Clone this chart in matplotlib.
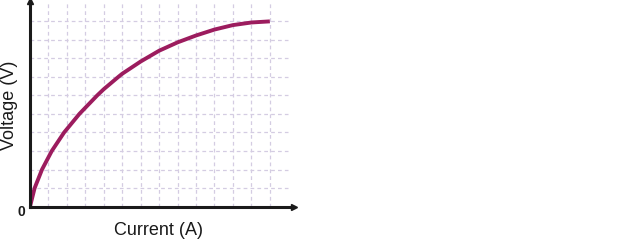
import matplotlib.pyplot as plt

# values (grid units)
current = [0, 0.25, 0.65, 1.18, 1.85, 2.68, 3.65, 4.0, 4.8, 5.0, 6.0, 7.0, 8.0, 9.0, 10.0, 11.0, 12.0, 13.0]
voltage = [0, 1.0, 2.0, 3.0, 4.0, 5.0, 6.0, 6.33, 7.0, 7.16, 7.82, 8.4, 8.85, 9.22, 9.54, 9.78, 9.92, 9.98]
grid_x = list(range(1, 14))
grid_y = list(range(1, 11))

W, H = 624, 241
fig = plt.figure(figsize=(W / 100, H / 100), dpi=100)
plt.rcParams['font.family'] = ['Liberation Sans', 'DejaVu Sans']

x0, y0 = 30, 206.7          # origin in pixels
ux, uy = 18.45, 18.57       # pixels per grid unit
xmax, ymax = 14.3, 11.1
ax = fig.add_axes([x0 / W, (H - y0) / H, xmax * ux / W, ymax * uy / H])
ax.set_xlim(0, xmax)
ax.set_ylim(0, ymax)

gridc = '#d4cce2'
ax.hlines(grid_y, 0, 14, colors=gridc, linestyles=(0, (3, 2.5)), linewidth=0.9, zorder=1)
ax.vlines(grid_x, 0, 11, colors=gridc, linestyles=(0, (3, 2.5)), linewidth=0.9, zorder=1)

ax.plot(current, voltage, color='#9c1c5e', linewidth=2.8, solid_joinstyle='round',
        solid_capstyle='butt', zorder=3)

for s in ['top', 'right']:
    ax.spines[s].set_visible(False)
for s in ['left', 'bottom']:
    ax.spines[s].set_linewidth(2.2)
    ax.spines[s].set_color('#1a1a1a')
    ax.spines[s].set_zorder(4)
ax.plot(1, 0, '>', color='#1a1a1a', markersize=5, transform=ax.get_yaxis_transform(), clip_on=False, zorder=5)
ax.plot(0, 1, '^', color='#1a1a1a', markersize=5, transform=ax.get_xaxis_transform(), clip_on=False, zorder=5)
ax.set_xticks([])
ax.set_yticks([])

fig.text(21.5 / W, 1 - 211.5 / H, '0', ha='center', va='center', fontsize=10, fontweight='bold', color='#1a1a1a')
fig.text(9.5 / W, 1 - 105 / H, 'Voltage (V)', ha='center', va='center', rotation=90, fontsize=13, color='#1a1a1a')
fig.text(158.5 / W, 1 - 230.5 / H, 'Current (A)', ha='center', va='center', fontsize=13, color='#1a1a1a')

fig.savefig('out.png', dpi=100)
